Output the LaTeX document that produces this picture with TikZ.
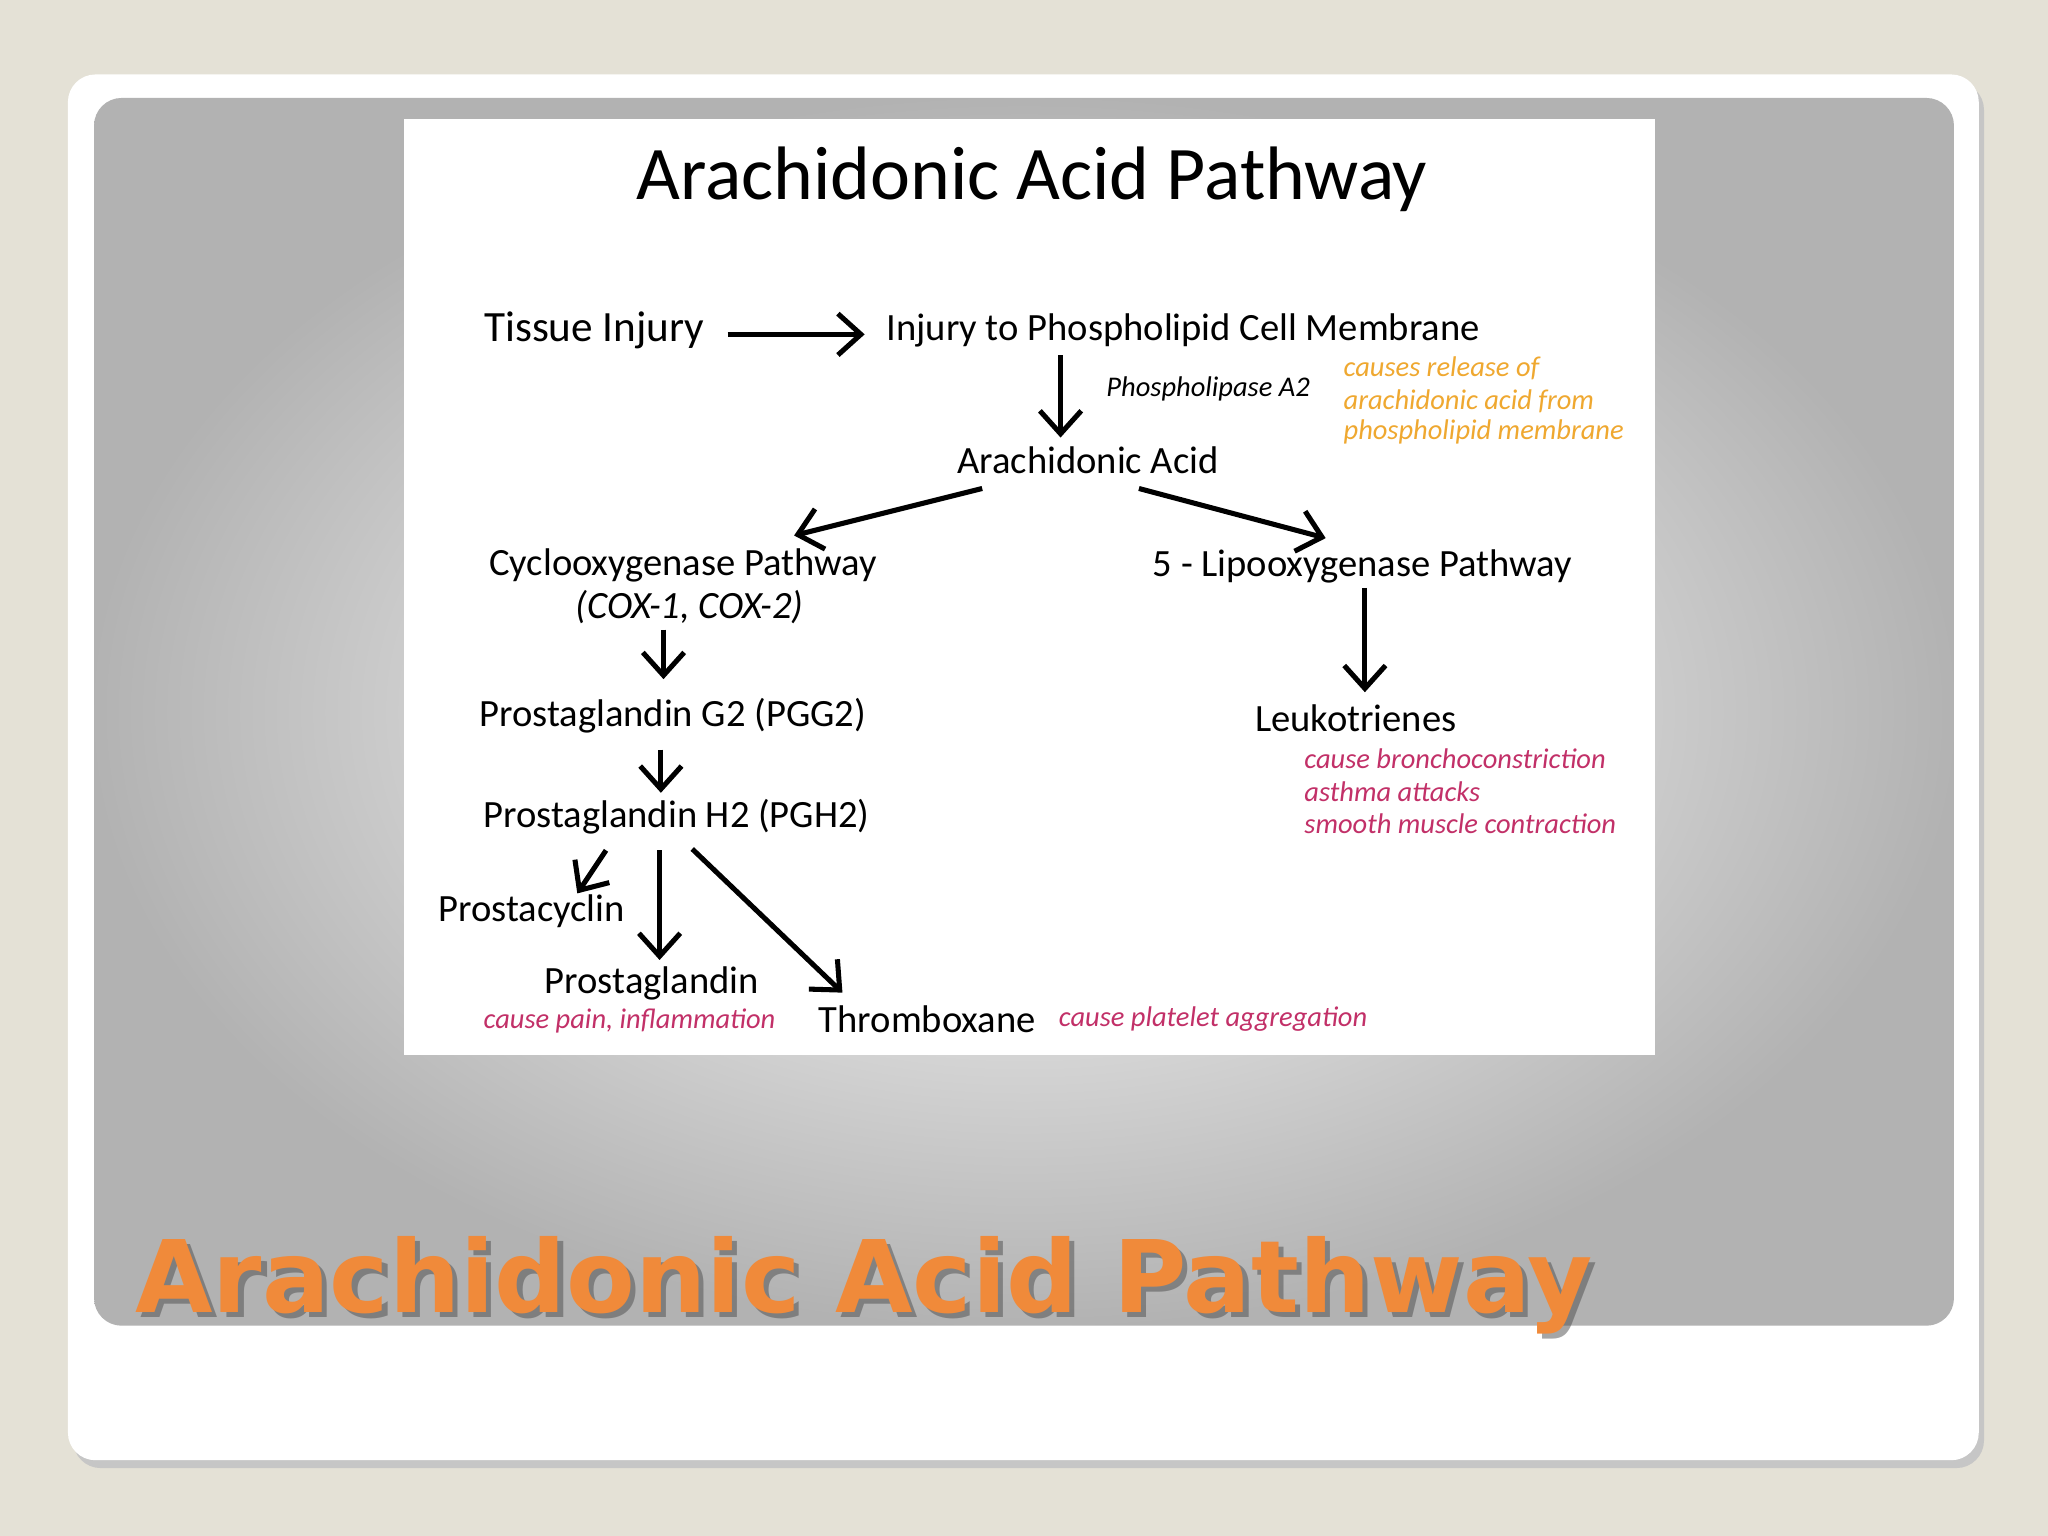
\documentclass[tikz,border=0pt]{standalone}
\usepackage{fontspec}
\setmainfont{Carlito}
\newfontfamily\titlefont{DejaVu Sans}
\usetikzlibrary{arrows.meta}
\definecolor{pagebg}{HTML}{E4E1D6}
\definecolor{noteor}{HTML}{EFA830}
\definecolor{notemg}{HTML}{C23068}
\definecolor{ttlor}{HTML}{F08A3A}
\tikzset{x=0.01cm,y=-0.01cm,
 lbl/.style={inner sep=0pt,font=\fontsize{8.4}{10}\selectfont},
 big/.style={inner sep=0pt,font=\fontsize{9.4}{11}\selectfont},
 noteO/.style={inner sep=0pt,anchor=west,text=noteor,font=\fontsize{6.2}{7.5}\selectfont\itshape},
 noteM/.style={inner sep=0pt,anchor=west,text=notemg,font=\fontsize{6.2}{7.5}\selectfont\itshape},
 arr/.style={line width=1.1pt,-{Straight Barb[length=5pt,width=9pt,line width=1.1pt]}}}
\begin{document}
\begin{tikzpicture}
\useasboundingbox (0,0) rectangle (1568,1176);
\fill[pagebg] (0,0) rectangle (1568,1176);
\fill[gray!45,rounded corners=6pt] (56,63) rectangle (1519,1124);
\fill[white,rounded corners=6pt] (52,57) rectangle (1515,1118);
\shade[inner color=white,outer color=gray!60,rounded corners=6pt] (72,75) rectangle (1496,1015);
\fill[white] (309,91) rectangle (1267,808);
\node[inner sep=0pt,font=\fontsize{16.5}{19}\selectfont] (title) at (790,137) {Arachidonic Acid Pathway};
\node[big] (ti) at (455,253) {Tissue Injury};
\node[lbl] (ipm) at (906,253) {Injury to Phospholipid Cell Membrane};
\node[inner sep=0pt,font=\fontsize{6.2}{7.5}\selectfont\itshape] (pla) at (925,298) {Phospholipase A2};
\node[noteO] (n1) at (1028,282) {causes release of};
\node[noteO] (n2) at (1028,307) {arachidonic acid from};
\node[noteO] (n3) at (1028,331) {phospholipid membrane};
\node[lbl] (aa) at (833,352) {Arachidonic Acid};
\node[lbl] (cox) at (523,433) {Cyclooxygenase Pathway};
\node[lbl,font=\fontsize{8.4}{10}\selectfont\itshape] (coxn) at (528,465) {(COX-1, COX-2)};
\node[lbl] (lox) at (1043,434) {5 - Lipooxygenase Pathway};
\node[lbl] (leu) at (1038,550) {Leukotrienes};
\node[noteM] (l1) at (998,581) {cause bronchoconstriction};
\node[noteM] (l2) at (998,606) {asthma attacks};
\node[noteM] (l3) at (998,631) {smooth muscle contraction};
\node[lbl] (pgg) at (515,548) {Prostaglandin G2 (PGG2)};
\node[lbl] (pgh) at (518,625) {Prostaglandin H2 (PGH2)};
\node[lbl] (pc) at (407,698) {Prostacyclin};
\node[lbl] (pg) at (499,753) {Prostaglandin};
\node[noteM,anchor=center] (pgn) at (482,782) {cause pain, inflammation};
\node[lbl] (tx) at (710,780) {Thromboxane};
\node[noteM] (txn) at (810,780) {cause platelet aggregation};
\coordinate (tiend) at (662,256);
\draw[arr] (557,256) -- (tiend);
\draw[arr] (812,272) -- (812,335);
\draw[arr] (752,374) -- (608,410);
\draw[arr] (872,374) -- (1015,412);
\draw[arr] (1045,450) -- (1045,530);
\draw[arr] (508,482) -- (508,520);
\draw[arr] (506,574) -- (506,607);
\draw[arr] (464,651) -- (442,684);
\draw[arr] (505,651) -- (505,735);
\draw[arr] (530,650) -- (645,760);
\node[inner sep=0pt,anchor=west,text=gray!60!black,opacity=0.5,font=\fontsize{21.8}{26}\titlefont\bfseries] at (107,988) {Arachidonic Acid Pathway};
\node[inner sep=0pt,anchor=west,text=ttlor,font=\fontsize{21.8}{26}\titlefont\bfseries] (bt) at (103,984) {Arachidonic Acid Pathway};
\end{tikzpicture}
\end{document}
